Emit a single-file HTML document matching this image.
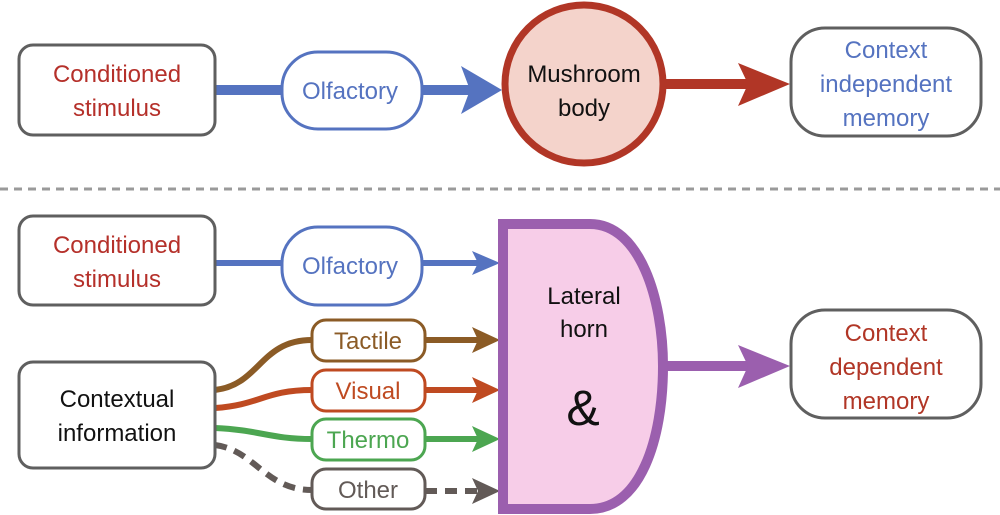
<!DOCTYPE html>
<html><head><meta charset="utf-8"><style>html,body{margin:0;padding:0;background:#fff}svg{display:block}text{font-family:"Liberation Sans",sans-serif;font-size:24px;text-anchor:middle}</style></head><body>
<svg width="1000" height="515" viewBox="0 0 1000 515" xmlns="http://www.w3.org/2000/svg">
<!-- top row -->
<line x1="215" y1="90" x2="282" y2="90" stroke="#5573c0" stroke-width="10"/>
<line x1="422" y1="90" x2="470" y2="90" stroke="#5573c0" stroke-width="10"/>
<polygon points="461,66 502,90 461,114 470,90" fill="#5573c0"/>
<rect x="19" y="45" width="196" height="90" rx="14" fill="#fff" stroke="#5f5f5f" stroke-width="3"/>
<text x="117" y="82" fill="#b5302a">Conditioned</text>
<text x="117" y="116" fill="#b5302a">stimulus</text>
<rect x="282" y="52" width="140" height="77" rx="36" fill="#fff" stroke="#5573c0" stroke-width="3"/>
<text x="350" y="99" fill="#5573c0">Olfactory</text>
<line x1="664" y1="84" x2="760" y2="84" stroke="#b13626" stroke-width="10"/>
<polygon points="738,63 790,84 738,106 748,84" fill="#b13626"/>
<circle cx="584" cy="84" r="79" fill="#f4d3cb" stroke="#b13626" stroke-width="7"/>
<text x="584" y="82" fill="#111">Mushroom</text>
<text x="584" y="116" fill="#111">body</text>
<rect x="791" y="28" width="190" height="108" rx="34" fill="#fff" stroke="#5f5f5f" stroke-width="3"/>
<text x="886" y="58" fill="#5573c0">Context</text>
<text x="886" y="92" fill="#5573c0">independent</text>
<text x="886" y="126" fill="#5573c0">memory</text>
<!-- divider -->
<line x1="0" y1="189" x2="1000" y2="189" stroke="#9a9a9a" stroke-width="3" stroke-dasharray="8,6"/>
<!-- bottom -->
<line x1="215" y1="263" x2="282" y2="263" stroke="#5573c0" stroke-width="6"/>
<line x1="422" y1="263" x2="480" y2="263" stroke="#5573c0" stroke-width="6"/>
<polygon points="472,251 500,263 472,275 478,263" fill="#5573c0"/>
<rect x="19" y="216" width="196" height="89" rx="14" fill="#fff" stroke="#5f5f5f" stroke-width="3"/>
<text x="117" y="253" fill="#b5302a">Conditioned</text>
<text x="117" y="287" fill="#b5302a">stimulus</text>
<rect x="282" y="227" width="140" height="78" rx="36" fill="#fff" stroke="#5573c0" stroke-width="3"/>
<text x="350" y="274" fill="#5573c0">Olfactory</text>
<!-- context paths -->
<path d="M215,390 C260,385 260,340 312,340" fill="none" stroke="#8b5b26" stroke-width="6"/>
<path d="M215,408 C260,405 265,390 312,390" fill="none" stroke="#bf4a21" stroke-width="6"/>
<path d="M215,428 C260,430 270,439 312,439" fill="none" stroke="#4ca651" stroke-width="6"/>
<path d="M215,445 C255,450 265,490 312,490" fill="none" stroke="#625a57" stroke-width="6" stroke-dasharray="12,8"/>
<line x1="425" y1="340" x2="480" y2="340" stroke="#8b5b26" stroke-width="6"/>
<polygon points="472,327 500,340 472,353 478,340" fill="#8b5b26"/>
<line x1="425" y1="390" x2="480" y2="390" stroke="#bf4a21" stroke-width="6"/>
<polygon points="472,377 500,390 472,403 478,390" fill="#bf4a21"/>
<line x1="425" y1="439" x2="480" y2="439" stroke="#4ca651" stroke-width="6"/>
<polygon points="472,426 500,439 472,452 478,439" fill="#4ca651"/>
<line x1="425" y1="491" x2="480" y2="491" stroke="#625a57" stroke-width="6" stroke-dasharray="12,8"/>
<polygon points="472,478 500,491 472,504 478,491" fill="#625a57"/>
<rect x="19" y="362" width="196" height="106" rx="14" fill="#fff" stroke="#5f5f5f" stroke-width="3"/>
<text x="117" y="407" fill="#111">Contextual</text>
<text x="117" y="441" fill="#111">information</text>
<rect x="312" y="320" width="113" height="41" rx="14" fill="#fff" stroke="#8b5b26" stroke-width="3"/>
<text x="368" y="349" fill="#8b5b26">Tactile</text>
<rect x="312" y="370" width="113" height="41" rx="14" fill="#fff" stroke="#bf4a21" stroke-width="3"/>
<text x="368" y="399" fill="#bf4a21">Visual</text>
<rect x="312" y="419" width="113" height="41" rx="14" fill="#fff" stroke="#4ca651" stroke-width="3"/>
<text x="368" y="448" fill="#4ca651">Thermo</text>
<rect x="312" y="469" width="113" height="40" rx="14" fill="#fff" stroke="#625a57" stroke-width="3"/>
<text x="368" y="498" fill="#625a57">Other</text>
<!-- lateral horn -->
<line x1="664" y1="366" x2="760" y2="366" stroke="#9b5fae" stroke-width="10"/>
<polygon points="738,345 790,366 738,388 748,366" fill="#9b5fae"/>
<path d="M503,224 H590 C640,224 663,300 663,366 C663,440 640,509 590,509 H503 Z" fill="#f7cde8" stroke="#9b5fae" stroke-width="10"/>
<text x="584" y="304" fill="#111">Lateral</text>
<text x="584" y="337" fill="#111">horn</text>
<text x="583" y="425" fill="#111" style="font-size:50px">&amp;</text>
<rect x="791" y="310" width="190" height="108" rx="34" fill="#fff" stroke="#5f5f5f" stroke-width="3"/>
<text x="886" y="341" fill="#b13626">Context</text>
<text x="886" y="375" fill="#b13626">dependent</text>
<text x="886" y="409" fill="#b13626">memory</text>
</svg>
</body></html>
